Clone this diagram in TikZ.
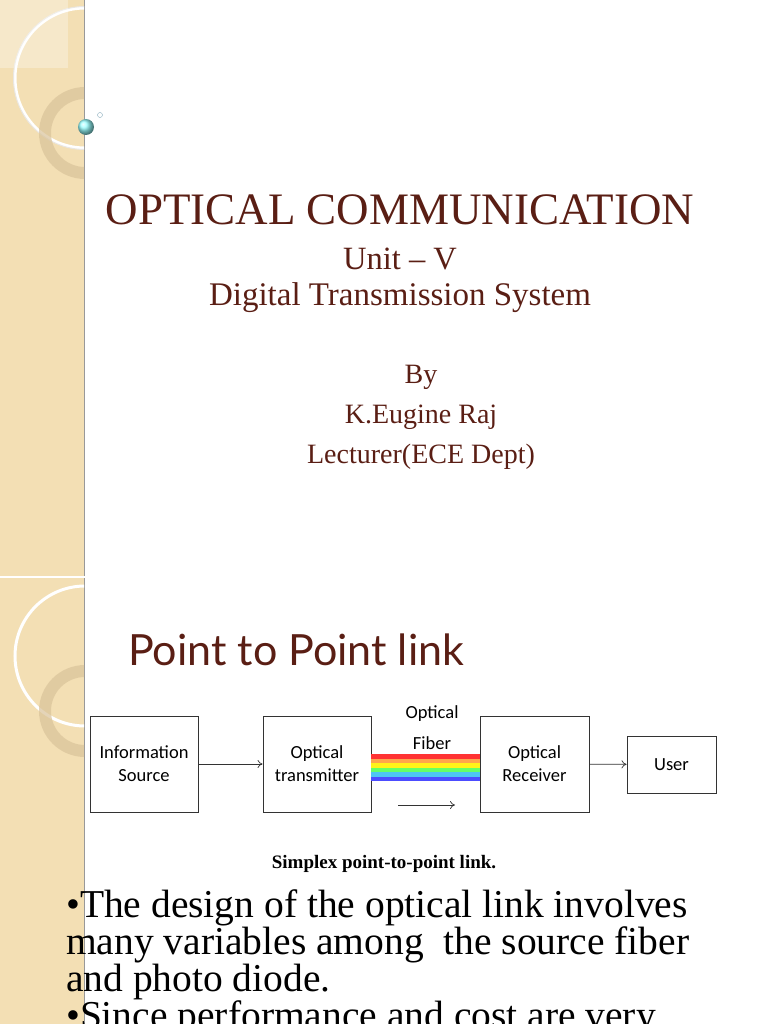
\documentclass[tikz,border=0pt]{standalone}
\usepackage{fontspec}
\setmainfont{Liberation Serif}
\newfontfamily\gillf{Lato}
\newfontfamily\carl{Carlito}
\usetikzlibrary{arrows.meta}
\definecolor{beige}{HTML}{F3DFB4}
\definecolor{ring}{HTML}{D9C39A}
\definecolor{brn}{HTML}{5A1E14}
\begin{document}
\begin{tikzpicture}[x=1pt,y=-1pt,
  blk/.style={draw=black!80,fill=white,line width=0.9pt,align=center,font=\carl\fontsize{18.5}{23}\selectfont,inner sep=0},
  arr/.style={-{To[length=5pt,width=8pt]},black!80,line width=0.7pt}]
\useasboundingbox (0,0) rectangle (768,1024);
\clip (0,0) rectangle (768,1024);
% slide 1 band
\fill[beige] (0,0) rectangle (84,576);
\draw[black!40,line width=1pt] (84,0) -- (84,576);
\begin{scope}
\clip (0,0) rectangle (84,576);
\draw[white,line width=3pt] (85,78) circle (70);
\draw[ring!70!black!20,line width=1pt] (85,78) circle (71.5);
\draw[ring,line width=12pt,opacity=0.7] (85,133) circle (40);
\fill[white,opacity=0.3] (0,0) rectangle (68,68);
\end{scope}
\shade[ball color=cyan!40] (86,127) circle (8);
\draw[cyan!50!black!60] (100,115) circle (2.5);
% slide 2 band
\fill[beige] (0,578) rectangle (84,1024);
\draw[black!40,line width=1pt] (84,578) -- (84,1024);
\begin{scope}
\clip (0,578) rectangle (84,1024);
\draw[white,line width=3pt] (85,656) circle (70);
\draw[ring,line width=12pt,opacity=0.7] (85,711) circle (40);
\end{scope}
\draw[white,line width=2pt] (0,577) -- (768,577);
% slide 1 text
\node[brn,font=\fontsize{45}{50}\selectfont] (title) at (400,210) {OPTICAL COMMUNICATION};
\node[brn,font=\fontsize{32.5}{36}\selectfont] (unit) at (400,259) {Unit -- V};
\node[brn,font=\fontsize{33}{36}\selectfont] (dts) at (400,298) {Digital Transmission System};
\node[brn,font=\fontsize{28}{32}\selectfont] (by) at (421,377) {By};
\node[brn,font=\fontsize{28}{32}\selectfont] (name) at (421,417) {K.Eugine Raj};
\node[brn,font=\fontsize{28}{32}\selectfont] (lect) at (421,457) {Lecturer(ECE Dept)};
% slide 2
\node[brn,font=\gillf\fontsize{43}{48}\selectfont,anchor=west,inner sep=0] (ptp) at (128,650) {Point to Point link};
\node[blk,minimum width=108,minimum height=96] (src) at (144,764) {Information\\Source};
\node[blk,minimum width=108,minimum height=96] (tx) at (317,764) {Optical\\transmitter};
\node[blk,minimum width=109,minimum height=96] (rx) at (534.5,764) {Optical\\Receiver};
\node[blk,minimum width=89,minimum height=57] (user) at (671.5,764.5) {User};
\foreach \c [count=\i from 0] in {red!80,orange!70,yellow!90,green!60,cyan!70,blue!70}
  \fill[\c] (371,754+4.5*\i) rectangle (480,758.5+4.5*\i);
\node[font=\carl\fontsize{18.5}{23}\selectfont] (of1) at (432,714) {Optical};
\node[font=\carl\fontsize{18.5}{23}\selectfont] (of2) at (432,743) {Fiber};
\draw[arr] (src) -- (tx);
\draw[arr] (rx) -- (user);
\coordinate (a1) at (398,805); \coordinate (a2) at (455,805);
\draw[arr] (a1) -- (a2);
\node[font=\fontsize{19}{22}\selectfont\bfseries] (cap) at (384,864) {Simplex point-to-point link.};
\node[anchor=north west,align=left,font=\fontsize{39.5}{32.5}\selectfont,inner sep=0] (body) at (66,889)
 {•The design of the optical link involves\\many variables among\ \ the source fiber\\and photo diode.\\•Since performance and cost are very};
\end{tikzpicture}
\end{document}
